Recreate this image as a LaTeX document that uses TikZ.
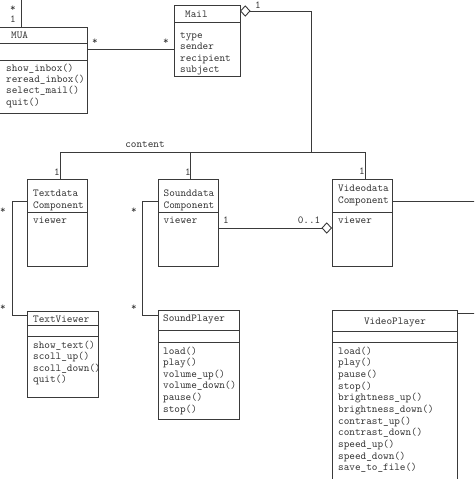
\documentclass[tikz,border=0pt]{standalone}
\usepackage{fontspec}
\usetikzlibrary{arrows.meta}
\definecolor{ln}{HTML}{3A3A3A}
\definecolor{tx}{HTML}{333333}
\tikzset{
  cls/.style={draw=ln, line width=0.9pt, inner sep=0pt, outer sep=0pt, anchor=north west},
  cmp/.style={draw=ln, line width=0.9pt},
  conn/.style={draw=ln, line width=0.9pt},
  txt/.style={font=\ttfamily\fontsize{10.7}{11.5}\selectfont, text=tx, inner sep=0pt, anchor=base west},
  mult/.style={font=\ttfamily\fontsize{10.7}{11.5}\selectfont, text=tx, inner sep=0pt, anchor=center},
  agg/.style={-{Diamond[open, length=10.5pt, width=11.5pt, line width=0.9pt]}},
}
\begin{document}
\begin{tikzpicture}[x=1pt,y=-1pt]
\useasboundingbox (0,0) rectangle (474,479);
\clip (0,0) rectangle (474,479);
% class boxes
\node[cls, minimum width=92pt, minimum height=86pt] (mua) at (-5,27) {};
\node[cls, minimum width=66pt, minimum height=70.5pt] (mail) at (174,5.5) {};
\node[cls, minimum width=60pt, minimum height=87.5pt] (td) at (27,179) {};
\node[cls, minimum width=60pt, minimum height=87.5pt] (sd) at (158,179) {};
\node[cls, minimum width=60.5pt, minimum height=87.5pt] (vd) at (332,179) {};
\node[cls, minimum width=71pt, minimum height=86pt] (tv) at (27,311) {};
\node[cls, minimum width=81pt, minimum height=109pt] (sp) at (158,310) {};
\node[cls, minimum width=125.5pt, minimum height=190pt] (vp) at (332,310) {};
% compartments
\draw[cmp] (mua.west |- 0,43.3) -- (mua.east |- 0,43.3);
\draw[cmp] (mua.west |- 0,60) -- (mua.east |- 0,60);
\draw[cmp] (mail.west |- 0,22) -- (mail.east |- 0,22);
\draw[cmp] (td.west |- 0,212) -- (td.east |- 0,212);
\draw[cmp] (sd.west |- 0,212) -- (sd.east |- 0,212);
\draw[cmp] (vd.west |- 0,212) -- (vd.east |- 0,212);
\draw[cmp] (tv.west |- 0,325) -- (tv.east |- 0,325);
\draw[cmp] (tv.west |- 0,336) -- (tv.east |- 0,336);
\draw[cmp] (sp.west |- 0,330) -- (sp.east |- 0,330);
\draw[cmp] (sp.west |- 0,342) -- (sp.east |- 0,342);
\draw[cmp] (vp.west |- 0,331) -- (vp.east |- 0,331);
\draw[cmp] (vp.west |- 0,342) -- (vp.east |- 0,342);
% texts
\node[txt] (muat) at (11,38) {MUA};
\foreach \t [count=\i from 0] in {show\_inbox(),reread\_inbox(),select\_mail(),quit()}
  \node[txt] (muam\i) at (6,71+11.4*\i) {\t};
\node[txt] (mailt) at (185,17) {Mail};
\foreach \t [count=\i from 0] in {type,sender,recipient,subject}
  \node[txt] (maila\i) at (180,38+11.5*\i) {\t};
\node[txt] (tdt1) at (33,196) {Textdata};
\node[txt] (tdt2) at (33,208) {Component};
\node[txt] (tda) at (33,223) {viewer};
\node[txt] (sdt1) at (163.5,196) {Sounddata};
\node[txt] (sdt2) at (163.5,208) {Component};
\node[txt] (sda) at (163.5,223) {viewer};
\node[txt] (vdt1) at (338,191.5) {Videodata};
\node[txt] (vdt2) at (338,203.5) {Component};
\node[txt] (vda) at (338,223) {viewer};
\node[txt] (tvt) at (33,322) {TextViewer};
\foreach \t [count=\i from 0] in {show\_text(),scoll\_up(),scoll\_down(),quit()}
  \node[txt] (tvm\i) at (33,348+11.6*\i) {\t};
\node[txt] (spt) at (163,321) {SoundPlayer};
\foreach \t [count=\i from 0] in {load(),play(),volume\_up(),volume\_down(),pause(),stop()}
  \node[txt] (spm\i) at (163,354+11.6*\i) {\t};
\node[txt, anchor=base] (vpt) at (395,324) {VideoPlayer};
\foreach \t [count=\i from 0] in {load(),play(),pause(),stop(),brightness\_up(),brightness\_down(),contrast\_up(),contrast\_down(),speed\_up(),speed\_down(),save\_to\_file()}
  \node[txt] (vpm\i) at (338,354+11.67*\i) {\t};
% connector helper coordinates
\coordinate (muaup) at (21.7,-5);
\coordinate (busL) at (60,152);
\coordinate (busS) at (190.7,152);
\coordinate (busM) at (311,152);
\coordinate (busR) at (365,152);
\coordinate (vdout) at (480,201);
\coordinate (vpout) at (480,313);
\coordinate (tdbend) at (12,201);
\coordinate (sdbend) at (142,201);
% connectors
\draw[conn] (mua.north -| muaup) -- (muaup);
\draw[conn] (mua.east |- 0,49) -- (mail.west |- 0,49);
\draw[conn, agg] (busM) |- (mail.east |- 0,11);
\draw[conn] (td.north -| busL) |- (busR) -- (vd.north -| busR);
\draw[conn] (sd.north -| busS) -- (busS);
\draw[conn, agg] (sd.east |- 0,228) -- (vd.west |- 0,228);
\draw[conn] (vd.east |- vdout) -- (vdout);
\draw[conn] (vp.east |- vpout) -- (vpout);
\draw[conn] (td.west |- tdbend) -- (tdbend) |- (tv.west |- 0,315);
\draw[conn] (sd.west |- sdbend) -- (sdbend) |- (sp.west |- 0,315);
% labels
\node[mult] (l1) at (13,8.6) {*};
\node[mult] (l2) at (13,19) {1};
\node[mult] (l3) at (95,41.6) {*};
\node[mult] (l4) at (166,41.6) {*};
\node[mult] (l5) at (258,5) {1};
\node[mult] (l6) at (57,172) {1};
\node[mult] (l7) at (188,172) {1};
\node[mult] (l8) at (362,171) {1};
\node[mult] (l9) at (3,210.6) {*};
\node[mult] (l10) at (134,210.6) {*};
\node[mult] (l11) at (3,307.6) {*};
\node[mult] (l12) at (134,307.6) {*};
\node[mult] (l13) at (226,220) {1};
\node[mult] (l14) at (309,220) {0..1};
\node[mult] (lc) at (145,145) {content};
\end{tikzpicture}
\end{document}
